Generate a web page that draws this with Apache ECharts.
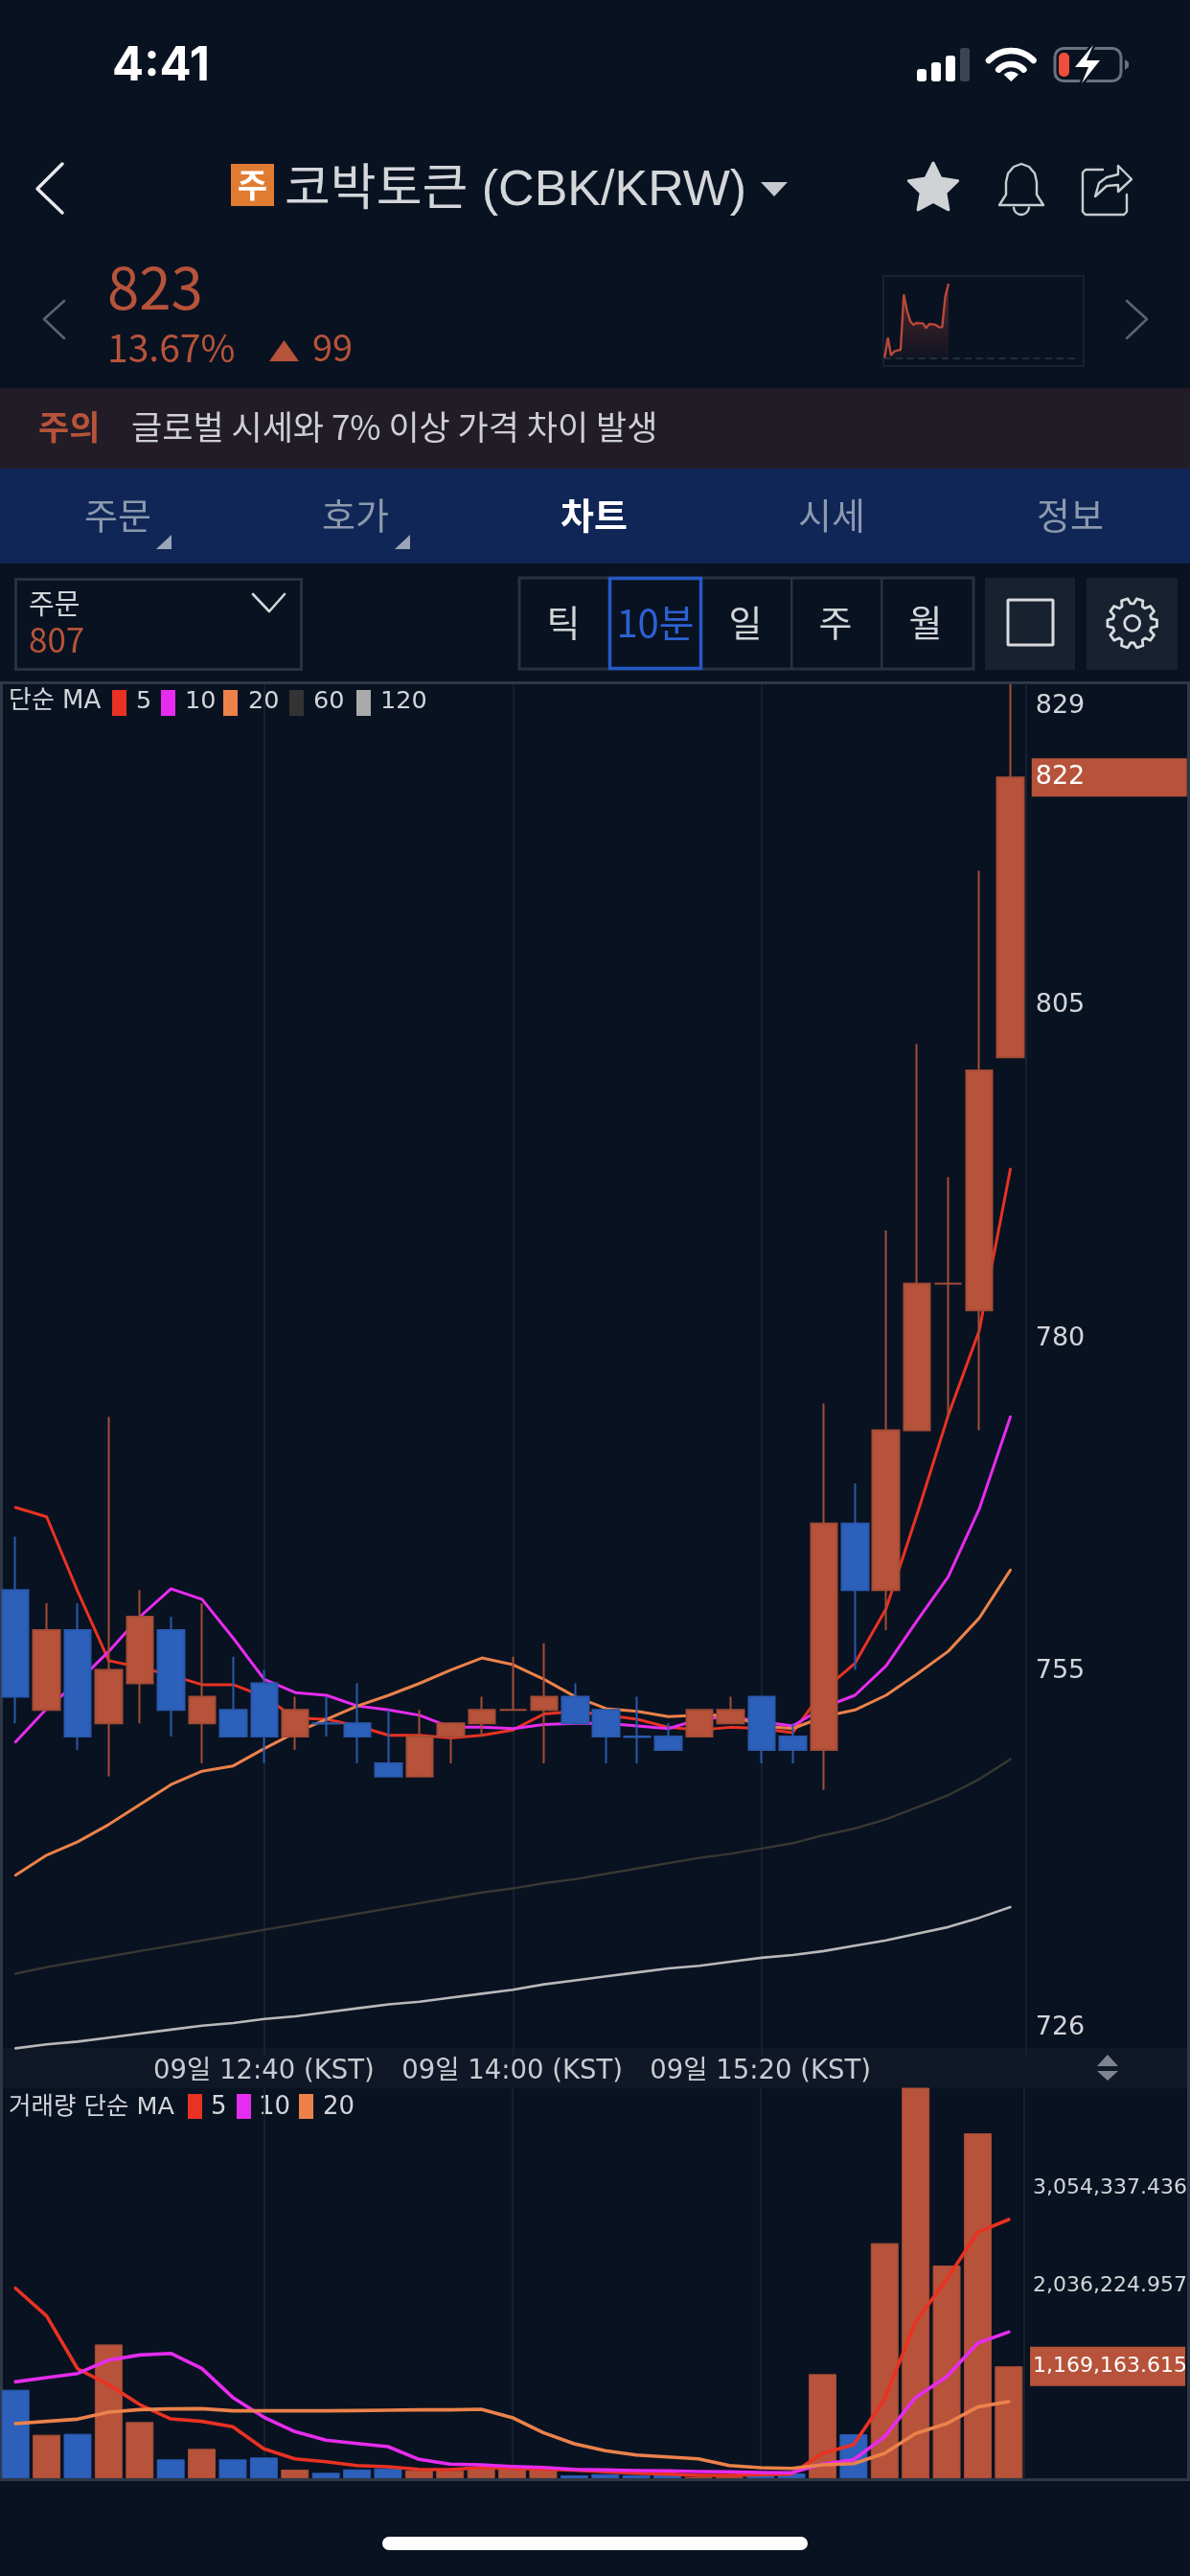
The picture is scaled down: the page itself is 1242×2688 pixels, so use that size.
<!DOCTYPE html>
<html lang="ko">
<head>
<meta charset="utf-8">
<title>코박토큰 (CBK/KRW)</title>
<script src="https://cdn.jsdelivr.net/npm/echarts@6/dist/echarts.min.js"></script>
<style>html,body{margin:0;padding:0;background:#091221}#c{width:1242px;height:2688px}</style>
</head>
<body>
<div id="c"></div>
<script>
// ---------- data ----------
const categories = ["09일 11:20 (KST)","09일 11:30 (KST)","09일 11:40 (KST)","09일 11:50 (KST)","09일 12:00 (KST)","09일 12:10 (KST)","09일 12:20 (KST)","09일 12:30 (KST)","09일 12:40 (KST)","09일 12:50 (KST)","09일 13:00 (KST)","09일 13:10 (KST)","09일 13:20 (KST)","09일 13:30 (KST)","09일 13:40 (KST)","09일 13:50 (KST)","09일 14:00 (KST)","09일 14:10 (KST)","09일 14:20 (KST)","09일 14:30 (KST)","09일 14:40 (KST)","09일 14:50 (KST)","09일 15:00 (KST)","09일 15:10 (KST)","09일 15:20 (KST)","09일 15:30 (KST)","09일 15:40 (KST)","09일 15:50 (KST)","09일 16:00 (KST)","09일 16:10 (KST)","09일 16:20 (KST)","09일 16:30 (KST)","09일 16:40 (KST)"];
const opens  = [761,752,758,751,754,758,751,752,754,750,751,751,748,747,750,751,752,752,753,752,750,750,750,751,753,750,749,766,761,773,784,782,801];
const closes = [753,758,750,755,759,752,753,750,750,752,750.98,750,747,750,751,752,752,753,751,750,749.98,749,752,752,749,749,766,761,773,784,784,800,822];
const lows   = [751,752,749,747,751,750,748,750,748,749,750,748,747,747,748,750,752,748,751,748,748,749,750,751,748,748,746,755,758,773,774,773,801];
const highs  = [765,760,760,774,761,759,760,756,755,753,753,754,752,752,751,753,756,757,754,752,753,751,752,753,753,751,775,769,788,802,792,815,829];
const ma5   = [767.2,766.5,760.9,755.7,755.2,754.6,753.9,753.9,753,751.4,751.3,750.8,750.1,750.1,749.9,750.1,750.5,751.7,751.9,751.6,751.3,750.7,750.5,750.7,750.6,750.3,753.5,755.5,759.6,766.7,774.1,780.5,792.6];
const ma10  = [749.6,752.1,754.1,756.4,759,761.1,760.3,757.4,754.3,753.3,753.1,752.3,752,751.6,750.7,750.7,750.6,750.9,751,751,750.8,750.6,751.3,751.5,751.1,750.8,752.2,753.1,755.3,758.7,762,767.1,774];
const ma20  = [739.6,741.1,742.1,743.4,744.9,746.4,747.4,747.8,749.1,750.3,751.3,752.3,753.1,754,755,755.9,755.4,754.3,753,752.1,751.9,751.5,751.6,751.6,750.8,750.6,751.5,752,753.1,754.7,756.4,758.9,762.5];
const ma60  = [732.2,732.7,733.1,733.5,733.9,734.3,734.7,735.1,735.5,735.9,736.3,736.7,737.1,737.5,737.9,738.3,738.6,739,739.3,739.7,740.1,740.5,740.9,741.2,741.6,742,742.6,743.1,743.8,744.7,745.6,746.8,748.3];
const ma120 = [726.6,726.9,727.1,727.4,727.7,728,728.3,728.5,728.8,729,729.3,729.6,729.9,730.1,730.4,730.7,731,731.4,731.7,732,732.3,732.6,732.8,733.1,733.4,733.6,733.9,734.3,734.7,735.2,735.7,736.4,737.2];
const priceTicks = [726,755,780,805,822,829];
const lastPrice = 822;

const volumes = [924000,454000,464000,1397000,587000,197000,307000,197000,217000,90000,57000,93000,103000,83000,83000,120000,100000,93000,30000,43000,33000,40000,13000,17000,37000,50000,1087000,460000,2455000,4300000,2221000,3602000,1169163.615];
const volMa5  = [1984000,1694000,1143000,977000,770000,620000,594000,537000,307000,203000,173000,133000,120000,93000,90000,113000,103000,96000,86000,67000,54000,44000,30000,30000,37000,44000,260000,350000,827000,1634000,2077000,2568000,2702000];
const volMa10 = [1007000,1050000,1094000,1234000,1287000,1304000,1147000,844000,637000,487000,397000,363000,330000,197000,147000,140000,123000,113000,93000,86000,80000,77000,70000,67000,60000,57000,147000,193000,434000,844000,1060000,1411000,1527000];
const volMa20 = [570000,594000,617000,690000,717000,724000,727000,704000,704000,704000,704000,707000,710000,714000,714000,720000,634000,477000,360000,287000,243000,223000,203000,133000,110000,103000,140000,153000,260000,467000,570000,744000,800000];
const volTicks = [1018112.478,1169163.615,2036224.957,3054337.436];
const volMax = 4072449.914;

const sparkValues = [2,65,10,22,25,27,200,150,117,105,111,110,110,95,108,107,105,98,97,195,234];
const sparkSlots = 61;

// ---------- palette ----------
const BG='#091221', UP='#B6533A', UPB='#A64C36', DOWN='#2D60BB', DOWNB='#2A59AE';
const C5='#E93223', C10='#E62CEE', C20='#EC824A', C60='#383733', C120='#B9B9B9';
const FRAME='#2F3847', GRIDL='#172030', TXT='#D3D5D8';
const LAT="'DejaVu Sans','Noto Sans CJK KR',sans-serif", KR="'Noto Sans CJK KR','Noto Sans',sans-serif", HV="'Liberation Sans','Noto Sans CJK KR',sans-serif";

// ---------- chrome helpers ----------
const gfx=[];
const R=(x,y,w,h,fill,extra={})=>gfx.push({type:'rect',shape:{x,y,width:w,height:h,r:extra.r||0},style:{fill:fill,stroke:extra.stroke||null,lineWidth:extra.lw||0},silent:true});
const T=(text,x,y,size,fill,o={})=>gfx.push({type:'text',silent:true,style:{text,x,y,fill,fontSize:size,fontFamily:o.f||KR,fontWeight:o.w||'normal',align:o.a||'left',verticalAlign:'middle'}});
const PG=(points,fill,stroke,lw)=>gfx.push({type:'polygon',silent:true,shape:{points},style:{fill:fill||null,stroke:stroke||null,lineWidth:lw||0,lineJoin:'round'}});
const PL=(points,stroke,lw,smooth)=>gfx.push({type:'polyline',silent:true,shape:{points,smooth:smooth||0},style:{fill:null,stroke,lineWidth:lw,lineCap:'round',lineJoin:'round'}});
const ARC=(cx,cy,r,a0,a1,stroke,lw)=>gfx.push({type:'arc',silent:true,shape:{cx,cy,r,startAngle:a0,endAngle:a1},style:{fill:null,stroke,lineWidth:lw,lineCap:'round'}});
const SEC=(cx,cy,r,a0,a1,fill)=>gfx.push({type:'sector',silent:true,shape:{cx,cy,r0:0,r,startAngle:a0,endAngle:a1},style:{fill}});
const CIR=(cx,cy,r,stroke,lw)=>gfx.push({type:'circle',silent:true,shape:{cx,cy,r},style:{fill:null,stroke,lineWidth:lw}});

// status bar
T('4:41',117,69,49,'#FFFFFF',{f:"Inter,Roboto,sans-serif",w:'bold'});
R(957,72,10,13,'#fff',{r:3});R(972,65,10,20,'#fff',{r:3});R(987,58,10,27,'#fff',{r:3});R(1002,50,10,35,'#3B4450',{r:3});
ARC(1055.3,85,32,-Math.PI*0.76,-Math.PI*0.24,'#fff',6.5);
ARC(1055.3,85,18,-Math.PI*0.76,-Math.PI*0.24,'#fff',6.5);
SEC(1055.3,85,10.5,-Math.PI*0.76,-Math.PI*0.24,'#fff');
R(1101,50.5,69,34,'rgba(0,0,0,0)',{r:9,stroke:'#6A7280',lw:3});
R(1105,55,11,25,'#EE4E3A',{r:5});
PG([[1174,62],[1178,65],[1178,70],[1174,73]],'#6A7280');
const bolt=[[1141,47],[1122,70],[1136,70],[1129,87],[1148,63],[1134,63]];
PG(bolt,BG,BG,5);
PG(bolt,'#FFFFFF');

// title row
PL([[65,171],[39,197],[65,222]],'#E6E8EA',3.5);
R(241,171,45,44,'#E07C32');
T('주',263.5,193,34,'#FFFFFF',{a:'center',w:'bold'});
T('코박토큰 (CBK/KRW)',297,200,52,'#D4D7DA',{f:HV});
PG([[794,190],[822,190],[808,205]],'#C6CACF');
const star=[];for(let i=0;i<10;i++){const a=-Math.PI/2+i*Math.PI/5,r=i%2?13.5:27;star.push([974+r*Math.cos(a),197+r*Math.sin(a)]);}
PG(star,'#D0D3D6','#D0D3D6',3);
PL([[1043,214],[1050,203],[1050,190],[1052,181],[1058,174],[1066,171],[1074,174],[1080,181],[1082,190],[1082,203],[1089,214],[1043,214]],'#C8CCD0',2.4);
ARC(1066,216,8,0.1,Math.PI-0.1,'#C8CCD0',2.4);
PL([[1151,177],[1133,177],[1130,180],[1130,221],[1133,224],[1173,224],[1176,221],[1176,203]],'#C8CCD0',2.4);
PL([[1167,173],[1181,187],[1167,200],[1167,193],[1155,194],[1143,205],[1147,191],[1155,185],[1167,182],[1167,173]],'#C8CCD0',2.4);

// price row
PL([[67,314],[46,333],[67,353]],'#586474',2.6);
T('823',112,300,60,UP);
T('13.67%',112,363,39,UP);
PG([[281,377],[312,377],[296.5,355]],UP);
T('99',326,363,38,UP);
R(922,288,209,94,'rgba(0,0,0,0)',{stroke:'#1E2735',lw:1.5});
PL([[1176,314],[1197,333],[1176,353]],'#586474',2.6);

// warning band
R(0,405,1242,84,'#221C26');
T('주의',40,446,35,UP,{w:'bold'});
T('글로벌 시세와 7% 이상 가격 차이 발생',137,446,35,'#CDD0D4');

// tabs
R(0,489,1242,99,'#102657');
[['주문',123],['호가',371],['차트',620],['시세',868],['정보',1117]].forEach(([t,x],i)=>T(t,x,538,38,i===2?'#FFFFFF':'#8D99AE',{a:'center',w:i===2?'bold':'normal'}));
PG([[179,558],[179,573],[163,573]],'#9AA5B8');PG([[428,558],[428,573],[412,573]],'#9AA5B8');

// controls
R(16.5,604.5,298,94,'rgba(0,0,0,0)',{stroke:'#283140',lw:3});
T('주문',30,630,29,'#D3D5D8');
T('807',30,668,35,UP);
PL([[264,620],[281,638],[297,620]],'#D3D5D8',2.6);
R(542,603,474,95,'rgba(0,0,0,0)',{stroke:'#283140',lw:3});
[826,920].forEach(x=>R(x-1,603,2.5,95,'#283140'));
R(636.5,603.5,95,94,'rgba(0,0,0,0)',{stroke:'#2459C8',lw:3.5});
[['틱',588,'#D3D5D8',38],['10분',684,'#2C62D3',40],['일',778,'#D3D5D8',38],['주',872,'#D3D5D8',38],['월',966,'#D3D5D8',38]].forEach(([t,x,c,s])=>T(t,x,650,s,c,{a:'center'}));
R(1028,603,94,96,'#182130');
R(1052,626,47,47,'rgba(0,0,0,0)',{stroke:'#D8DADD',lw:3,r:1});
R(1134,603,95,96,'#182130');
const gear=[];for(let i=0;i<10;i++){const a0=i*Math.PI/5;
 [[-.23,20.5],[-.13,26],[.13,26],[.23,20.5]].forEach(([d,r])=>gear.push([1181.7+r*Math.cos(a0+d),650.3+r*Math.sin(a0+d)]));}
PG(gear,null,'#D8DADD',2.8);
CIR(1181.7,650.3,8,'#D8DADD',2.8);

// price legend
T('단순 MA',9,732,26,TXT,{f:LAT});
[[117,'5',142,C5],[168,'10',193,C10],[233,'20',259,C20],[302,'60',327,'#333333'],[372,'120',397,'#AAAAAA']].forEach(([sx,t,tx,c])=>{R(sx,720,15,27,c);T(t,tx,732,25.5,TXT,{f:LAT});});

// time band (above the price pane, below the axis labels)
R(3,2137,1236,42,'#101827');
PG([[1145,2156],[1167,2156],[1156,2144]],'#7F8590');PG([[1145,2161],[1167,2161],[1156,2171]],'#7F8590');

// volume legend
T('거래량 단순 MA',9,2199,25.5,TXT,{f:LAT});
[[196,'5',220,C5],[247,'10',270,C10],[312,'20',337,C20]].forEach(([sx,t,tx,c])=>{R(sx,2185,15,26,c);T(t,tx,2199,26,TXT,{f:LAT});});

// frame
R(0,711,1242,3,FRAME);R(0,711,3,1878,FRAME);R(1239,711,3,1878,FRAME);R(0,2586,1242,3,FRAME);

// home indicator
R(399,2647,444,14,'#FFFFFF',{r:7});

// ---------- chart ----------
const GL=-1.65, GR=1242-1070.75;
const candleData = opens.map((o,i)=>[o,closes[i],lows[i],highs[i]]);
const volData = volumes.map((v,i)=>({value:v,itemStyle:{color:closes[i]<opens[i]?DOWN:UP,borderColor:closes[i]<opens[i]?DOWNB:UPB,borderWidth:1}}));
const maLine=(name,data,color,w,xi)=>({name,type:'line',data,xAxisIndex:xi,yAxisIndex:xi,showSymbol:false,symbol:'none',smooth:false,z:xi?4:1,silent:true,lineStyle:{color,width:w,cap:'round',join:'round'},emphasis:{disabled:true}});
const guide=[8,16,24];
const opt={
 animation:false,backgroundColor:BG,tooltip:{show:false},
 graphic:{z:50,elements:gfx},
 grid:[
  {left:GL,right:GR,top:714,height:1431.7},
  {left:GL,right:GR,top:2179,height:407},
  {left:923.3,width:200,top:296,height:78}
 ],
 xAxis:[
  {type:'category',gridIndex:0,data:categories,boundaryGap:true,axisLine:{show:false},axisTick:{show:false},axisLabel:{show:false},splitLine:{show:false}},
  {type:'category',gridIndex:1,data:categories,boundaryGap:true,position:'top',z:60,axisLine:{show:false},axisTick:{show:false},splitLine:{show:false},
   axisLabel:{show:true,margin:3,fontSize:27.5,fontFamily:LAT,color:'#C9CCD1',interval:(i)=>guide.includes(i),hideOverlap:false}},
  {type:'category',gridIndex:2,data:Array.from({length:sparkSlots},(_,i)=>i),boundaryGap:false,axisTick:{show:false},axisLabel:{show:false},axisLine:{show:true,lineStyle:{color:'#232C3A',width:2,type:[6,6]}}}
 ],
 yAxis:[
  {type:'value',gridIndex:0,min:726,max:829,position:'right',z:60,splitLine:{show:false},axisTick:{show:false},axisLine:{show:true,lineStyle:{color:GRIDL,width:2}},
   axisLabel:{show:true,margin:6,customValues:priceTicks,hideOverlap:false,
    formatter:(v)=>v===lastPrice?`{hi|${v}}`:v===829?`{tg| }\n{n|${v}}`:v===726?`{n|${v}}\n{bg| }`:`{p| }\n{n|${v}}`,
    rich:{
     n:{fontSize:27,fontFamily:LAT,color:TXT,padding:[0,0,0,4],height:28,lineHeight:28},
     tg:{height:46,lineHeight:46,fontSize:1},
     p:{height:3,lineHeight:3,fontSize:1},
     bg:{height:60,lineHeight:60,fontSize:1},
     hi:{fontSize:27,fontFamily:LAT,color:'#FFFFFF',backgroundColor:UP,width:158,height:40,lineHeight:40,padding:[0,0,0,4]}
    }}},
  {type:'value',gridIndex:1,min:0,max:volMax,position:'right',z:60,splitLine:{show:false},axisTick:{show:false},axisLine:{show:true,lineStyle:{color:GRIDL,width:2}},
   axisLabel:{show:true,margin:6,customValues:volTicks,hideOverlap:false,
    formatter:(v)=>{const s=v.toLocaleString('en-US',{minimumFractionDigits:3,maximumFractionDigits:3});return v===volumes[32]?`{hi|${s}}`:v===volTicks[0]?`{q| }\n{n|${s}}`:`{p| }\n{n|${s}}`;},
    rich:{
     n:{fontSize:22,fontFamily:LAT,color:TXT,padding:[0,0,0,3]},
     q:{height:12,lineHeight:12,fontSize:1},
     p:{height:6,lineHeight:6,fontSize:1},
     hi:{fontSize:22,fontFamily:LAT,color:'#FFFFFF',backgroundColor:UP,width:159,height:41,lineHeight:41,padding:[0,0,0,3]}
    }}},
  {type:'value',gridIndex:2,min:0,max:234,show:false,splitLine:{show:false}}
 ],
 series:[
  maLine('MA120',ma120,C120,2.6,0),maLine('MA60',ma60,C60,2.4,0),
  maLine('MA5',ma5,C5,3,0),maLine('MA10',ma10,C10,3,0),maLine('MA20',ma20,C20,3,0),
  {name:'CBK/KRW',type:'candlestick',xAxisIndex:0,yAxisIndex:0,data:candleData,barWidth:28,z:3,silent:true,
   itemStyle:{color:UP,color0:DOWN,borderColor:UPB,borderColor0:DOWNB,borderWidth:2},
   markLine:{silent:true,symbol:'none',z:1,label:{show:false},lineStyle:{color:GRIDL,width:2,type:'solid'},data:guide.map(i=>({xAxis:i}))}},
  {name:'거래량',type:'bar',xAxisIndex:1,yAxisIndex:1,data:volData,barWidth:29,z:3,silent:true,
   markLine:{silent:true,symbol:'none',z:1,label:{show:false},lineStyle:{color:GRIDL,width:2,type:'solid'},data:guide.map(i=>({xAxis:i}))}},
  maLine('V5',volMa5,C5,3.6,1),maLine('V10',volMa10,C10,3.6,1),maLine('V20',volMa20,C20,3.6,1),
  {name:'spark',type:'line',xAxisIndex:2,yAxisIndex:2,data:sparkValues,symbol:'none',silent:true,lineStyle:{color:'#B9483A',width:2.4},
   areaStyle:{color:{type:'linear',x:0,y:0,x2:0,y2:1,colorStops:[{offset:0,color:'rgba(185,72,58,0.62)'},{offset:1,color:'rgba(185,72,58,0.06)'}]}}}
 ]
};
echarts.init(document.getElementById('c'),null,{renderer:'canvas'}).setOption(opt);
</script>
</body>
</html>
